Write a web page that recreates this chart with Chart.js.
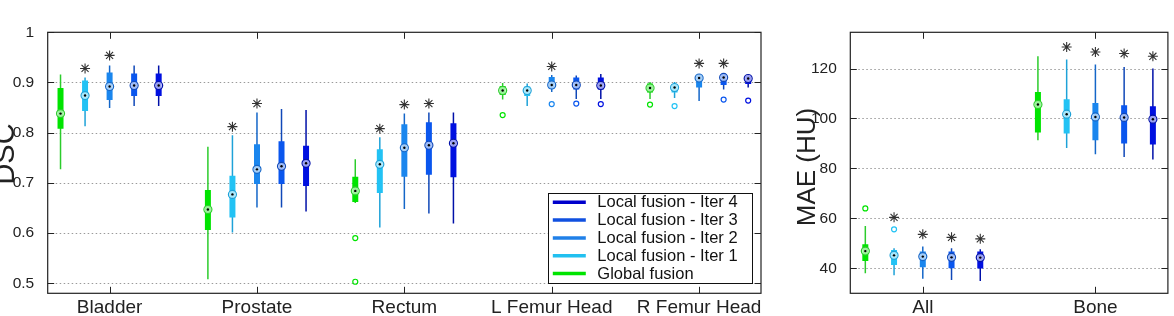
<!DOCTYPE html>
<html><head><meta charset="utf-8">
<script src="https://cdn.jsdelivr.net/npm/chart.js@4.4.0/dist/chart.umd.min.js"></script>
<style>
html,body{margin:0;padding:0;background:#fff;width:1174px;height:316px;overflow:hidden}
#l{position:absolute;left:0;top:0;width:770px;height:316px}
#r{position:absolute;left:770px;top:0;width:404px;height:316px}
</style></head><body>
<div id="l"><canvas id="cl" width="770" height="316"></canvas></div>
<div id="r"><canvas id="cr" width="404" height="316"></canvas></div>
<script>
// ---------- data ----------
const seriesNames = ['Global fusion','Local fusion - Iter 1','Local fusion - Iter 2','Local fusion - Iter 3','Local fusion - Iter 4'];
const dscCategories = ['Bladder','Prostate','Rectum','L Femur Head','R Femur Head'];
const maeCategories = ['All','Bone'];
const dscTicks = [0.5,0.6,0.7,0.8,0.9,1];
const maeTicks = [40,60,80,100,120];

// rows: Global, Iter1, Iter2, Iter3, Iter4 ; columns: categories
const dscLow = [
  [0.727,0.508,0.660,0.866,0.867],
  [0.813,0.601,0.611,0.853,0.869],
  [0.849,0.651,0.648,0.881,0.863],
  [0.853,0.651,0.639,0.867,0.886],
  [0.853,0.643,0.619,0.867,0.890]];
const dscQ1 = [
  [0.808,0.606,0.662,0.875,0.880],
  [0.843,0.631,0.680,0.873,0.880],
  [0.865,0.698,0.712,0.888,0.890],
  [0.873,0.698,0.716,0.886,0.895],
  [0.873,0.694,0.711,0.886,0.897]];
const dscMedian = [
  [0.838,0.647,0.684,0.884,0.889],
  [0.874,0.677,0.737,0.884,0.890],
  [0.892,0.727,0.770,0.895,0.909],
  [0.894,0.733,0.775,0.895,0.910],
  [0.894,0.739,0.779,0.894,0.908]];
const dscQ3 = [
  [0.889,0.686,0.712,0.893,0.898],
  [0.904,0.714,0.767,0.892,0.897],
  [0.920,0.777,0.817,0.911,0.915],
  [0.918,0.783,0.821,0.910,0.917],
  [0.918,0.774,0.819,0.910,0.914]];
const dscHigh = [
  [0.916,0.772,0.747,0.899,0.901],
  [0.910,0.795,0.791,0.898,0.901],
  [0.934,0.840,0.838,0.915,0.917],
  [0.934,0.847,0.840,0.914,0.918],
  [0.934,0.845,0.840,0.917,0.915]];
const dscOutliers = [
  [[],[],[0.590,0.503],[0.835],[0.856]],
  [[],[],[],[],[0.853]],
  [[],[],[],[0.857],[]],
  [[],[],[],[0.858],[0.866]],
  [[],[],[],[0.857],[0.864]]];
const dscStars = [
  [null,null,null,null,null],
  [0.928,0.812,0.808,null,null],
  [0.954,0.858,0.856,0.932,0.938],
  [null,null,0.858,null,0.938],
  [null,null,null,null,null]];

const maeLow    = [[38.0,91.3],[37.2,88.2],[35.8,85.7],[35.3,84.6],[34.9,83.6]];
const maeQ1     = [[42.9,94.4],[41.3,94.0],[40.4,91.3],[40.0,90.0],[39.9,89.6]];
const maeMedian = [[46.9,105.6],[45.2,101.7],[44.7,100.6],[44.4,100.4],[44.3,99.7]];
const maeQ3     = [[49.6,110.6],[47.3,107.7],[46.7,106.2],[46.7,105.3],[46.7,104.9]];
const maeHigh   = [[56.9,124.9],[48.0,123.6],[48.7,121.6],[48.0,120.6],[47.6,120.0]];
const maeOutliers = [[[64.0],[]],[[55.6],[]],[[],[]],[[],[]],[[],[]]];
const maeStars  = [[null,null],[60.4,128.6],[53.6,126.6],[52.4,126.0],[51.8,124.9]];

// ---------- style ----------
const boxColors     = ['#00e400','#22c2f4','#1a86ee','#0a56ee','#0010e0'];
const whiskerColors = ['#2ccc2c','#1ea2d8','#1466c8','#1048b8','#0010a8'];
const legendColors  = ['#00e400','#22c0f0','#2080e8','#1050e0','#0000cc'];
const groupOffsets  = [-0.333,-0.1665,0,0.1665,0.333];
const FONT = 'Liberation Sans, Arial, Helvetica, sans-serif';
const TEXT = '#222';

function buildDatasets(cats, low, q1, med, q3, high, outl, stars) {
  const ds = [];
  for (let s = 0; s < seriesNames.length; s++) {
    const wh = [], bx = [], md = [], ot = [], st = [];
    cats.forEach((c, i) => {
      const x = i + 1 + groupOffsets[s];
      wh.push({x, y: low[s][i]}, {x, y: high[s][i]}, {x, y: null});
      bx.push({x, y: q1[s][i]}, {x, y: q3[s][i]}, {x, y: null});
      md.push({x, y: med[s][i]});
      outl[s][i].forEach(v => ot.push({x, y: v}));
      if (stars[s][i] != null) st.push({x, y: stars[s][i]});
    });
    ds.push({type:'line', label: seriesNames[s]+' whisker', data: wh, borderColor: whiskerColors[s], borderWidth: 1.5,
      pointRadius: 0, spanGaps: false, borderCapStyle: 'butt', order: 6});
    ds.push({type:'line', label: seriesNames[s], data: bx, borderColor: boxColors[s], borderWidth: 6,
      pointRadius: 0, spanGaps: false, borderCapStyle: 'butt', order: 5});
    ds.push({type:'scatter', label: seriesNames[s]+' median', data: md, pointStyle: 'circle', pointRadius: 4,
      pointBackgroundColor: 'rgba(255,255,255,0.6)', pointBorderColor: whiskerColors[s], pointBorderWidth: 1.2, order: 4});
    ds.push({type:'scatter', label: seriesNames[s]+' median dot', data: md, pointStyle: 'circle', pointRadius: 1.2,
      pointBackgroundColor: '#000', pointBorderWidth: 0, order: 3});
    ds.push({type:'scatter', label: seriesNames[s]+' outliers', data: ot, pointStyle: 'circle', pointRadius: 2.5,
      pointBackgroundColor: 'rgba(255,255,255,0)', pointBorderColor: boxColors[s], pointBorderWidth: 1.2, order: 3});
    ds.push({type:'scatter', label: seriesNames[s]+' stars', data: st, pointStyle: 'star', pointRadius: 5,
      pointBorderColor: '#333', pointBorderWidth: 1.1, order: 2});
  }
  return ds;
}

const framePlugin = {
  id: 'frame',
  beforeDatasetsDraw(chart, args, opts) {
    const {ctx, chartArea: a, scales: {y}} = chart;
    ctx.save();
    ctx.strokeStyle = '#9a9a9a'; ctx.lineWidth = 1; ctx.setLineDash([1.5, 2.5]);
    y.ticks.forEach(t => {
      const py = Math.round(y.getPixelForValue(t.value)) + 0.5;
      if (py > a.top + 1 && py < a.bottom - 1) { ctx.beginPath(); ctx.moveTo(a.left, py); ctx.lineTo(a.right, py); ctx.stroke(); }
    });
    ctx.restore();
  },
  afterDraw(chart, args, opts) {
    const {ctx, chartArea: a, scales: {x, y}} = chart;
    ctx.save();
    ctx.strokeStyle = '#222'; ctx.lineWidth = 1.2; ctx.setLineDash([]);
    ctx.strokeRect(a.left, a.top, a.right - a.left, a.bottom - a.top);
    const L = 6.5;
    ctx.lineWidth = 1;
    y.ticks.forEach(t => {
      const py = Math.round(y.getPixelForValue(t.value)) + 0.5;
      ctx.beginPath(); ctx.moveTo(a.left, py); ctx.lineTo(a.left + L, py);
      ctx.moveTo(a.right, py); ctx.lineTo(a.right - L, py); ctx.stroke();
    });
    x.ticks.forEach(t => {
      const px = Math.round(x.getPixelForValue(t.value)) + 0.5;
      ctx.beginPath(); ctx.moveTo(px, a.top); ctx.lineTo(px, a.top + L);
      ctx.moveTo(px, a.bottom); ctx.lineTo(px, a.bottom - L); ctx.stroke();
    });
    // axis title
    ctx.fillStyle = TEXT;
    ctx.font = opts.titleSize + 'px ' + FONT;
    ctx.textAlign = 'center'; ctx.textBaseline = 'alphabetic';
    ctx.translate(opts.titleX, opts.titleY); ctx.rotate(-Math.PI / 2);
    ctx.fillText(opts.title, 0, 0);
    ctx.restore();
    if (opts.legend) {
      const w = 204, h = 90;
      const x0 = a.right - 212.7, y0 = a.bottom - 100;
      ctx.save();
      ctx.fillStyle = '#fff'; ctx.fillRect(x0, y0, w, h);
      ctx.strokeStyle = '#111'; ctx.lineWidth = 1; ctx.strokeRect(Math.round(x0) + 0.5, Math.round(y0) + 0.5, w, h);
      ctx.font = '16.5px ' + FONT; ctx.textBaseline = 'middle'; ctx.textAlign = 'left';
      for (let k = 0; k < seriesNames.length; k++) {
        const s = seriesNames.length - 1 - k;
        const ry = y0 + 9 + k * 17.8;
        ctx.strokeStyle = legendColors[s]; ctx.lineWidth = 3.5;
        ctx.beginPath(); ctx.moveTo(x0 + 4.5, ry); ctx.lineTo(x0 + 37.5, ry); ctx.stroke();
        ctx.fillStyle = '#111'; ctx.fillText(seriesNames[s], x0 + 49, ry + 0.5);
      }
      ctx.restore();
    }
  }
};

function makeChart(canvasId, cats, yMin, yMax, yTicks, data, padRight, yWidth, frameOpts) {
  return new Chart(document.getElementById(canvasId), {
    type: 'line',
    data: {datasets: buildDatasets(cats, ...data)},
    options: {
      responsive: false, animation: false, devicePixelRatio: 1,
      layout: {padding: {top: 32.3, right: padRight, left: 0, bottom: 0}},
      plugins: {legend: {display: false}, tooltip: {enabled: false}, frame: frameOpts},
      scales: {
        x: {type: 'linear', min: 0.58, max: cats.length + 0.42,
          grid: {display: false}, border: {display: false},
          afterBuildTicks: s => { s.ticks = cats.map((c, i) => ({value: i + 1})); },
          afterFit: s => { s.height = 22.7; },
          ticks: {callback: (v, i) => cats[i], autoSkip: false, maxRotation: 0, padding: -4.5,
            font: {family: FONT, size: 19}, color: TEXT}},
        y: {type: 'linear', min: yMin, max: yMax,
          grid: {display: false}, border: {display: false},
          afterBuildTicks: s => { s.ticks = yTicks.map(v => ({value: v})); },
          afterFit: s => { s.width = yWidth; },
          ticks: {callback: v => String(v), padding: 5.5, font: {family: FONT, size: 15.5}, color: TEXT}}
      }
    },
    plugins: [framePlugin]
  });
}

makeChart('cl', dscCategories, 0.48, 1.0, dscTicks,
  [dscLow, dscQ1, dscMedian, dscQ3, dscHigh, dscOutliers, dscStars], 9, 47.7,
  {title: 'DSC', titleSize: 29, titleX: 13.5, titleY: 154, legend: true});
makeChart('cr', maeCategories, 30, 134.5, maeTicks,
  [maeLow, maeQ1, maeMedian, maeQ3, maeHigh, maeOutliers, maeStars], 5.7, 80.3,
  {title: 'MAE (HU)', titleSize: 26, titleX: 45, titleY: 167, legend: false});
</script>
</body></html>
